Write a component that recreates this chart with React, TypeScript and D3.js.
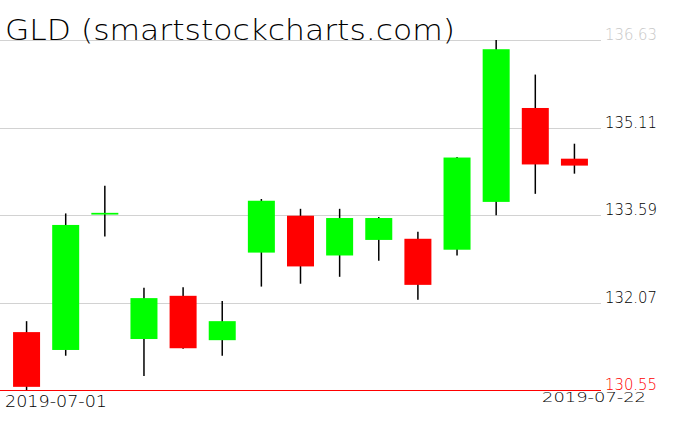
import React from "react";
import * as d3 from "d3";

const dates = [
  "2019-07-01", "2019-07-02", "2019-07-03", "2019-07-05", "2019-07-08",
  "2019-07-09", "2019-07-10", "2019-07-11", "2019-07-12", "2019-07-15",
  "2019-07-16", "2019-07-17", "2019-07-18", "2019-07-19", "2019-07-22",
];
const opens = [131.56, 131.25, 133.6, 131.44, 132.19, 131.42, 132.94, 133.58, 132.89, 133.16, 133.18, 132.99, 133.82, 135.45, 134.57];
const highs = [131.75, 133.62, 134.1, 132.33, 132.34, 132.1, 133.87, 133.7, 133.7, 133.56, 133.3, 134.6, 136.63, 136.03, 134.83];
const lows = [130.55, 131.15, 133.22, 130.8, 131.27, 131.15, 132.35, 132.4, 132.52, 132.8, 132.12, 132.89, 133.59, 133.96, 134.31];
const closes = [130.61, 133.42, 133.63, 132.15, 131.28, 131.75, 133.84, 132.7, 133.54, 133.54, 132.38, 134.59, 136.47, 134.47, 134.45];
const yTicks = [136.63, 135.11, 133.59, 132.07, 130.55];
const xLabels = ["2019-07-01", "2019-07-22"];
const title = "GLD (smartstockcharts.com)";

const W = 676;
const H = 431;
const FONT = "'DejaVu Sans', sans-serif";

export default function App() {
  const x = d3.scaleBand<string>().domain(dates).range([7, 594]).paddingInner(0.31).paddingOuter(0.155);
  const y = d3.scaleLinear().domain([130.55, 136.63]).range([390.3, 40]);
  const gridRight = 601;

  const tickColor = (i: number) => (i === 0 ? "#c8c8c8" : i === yTicks.length - 1 ? "#ff0000" : "#000");

  return (
    <div style={{ position: "absolute", left: 0, top: 0 }}>
      <svg width={W} height={H} style={{ display: "block", background: "#fff" }}>
        {yTicks.slice(0, -1).map((t) => (
          <line key={t} x1={0} x2={gridRight} y1={Math.round(y(t)) + 0.5} y2={Math.round(y(t)) + 0.5} stroke="#d2d2d2" strokeWidth={1} />
        ))}
        {dates.map((d, i) => {
          const cx = (x(d) as number) + x.bandwidth() / 2;
          const up = closes[i] >= opens[i];
          const top = y(Math.max(opens[i], closes[i]));
          const bot = y(Math.min(opens[i], closes[i]));
          return (
            <g key={d}>
              <line x1={cx} x2={cx} y1={y(highs[i])} y2={y(lows[i])} stroke="#000" strokeWidth={1.5} />
              <rect x={x(d)} y={top} width={x.bandwidth()} height={Math.max(bot - top, 1.5)} fill={up ? "#00ff00" : "#ff0000"} />
            </g>
          );
        })}
        <line x1={0} x2={gridRight} y1={390.5} y2={390.5} stroke="#ff0000" strokeWidth={1} />
        {yTicks.map((t, i) => (
          <text key={t} x={605} y={i === yTicks.length - 1 ? 389.5 : y(t)} fontFamily={FONT} fontWeight={200} fontSize={16} fill={tickColor(i)} textLength={52} lengthAdjust="spacingAndGlyphs">
            {d3.format(".2f")(t)}
          </text>
        ))}
        <text x={5} y={406.5} fontFamily={FONT} fontWeight={200} fontSize={16} fill="#000" textLength={102} lengthAdjust="spacingAndGlyphs">
          {xLabels[0]}
        </text>
        <text x={542} y={401.5} fontFamily={FONT} fontWeight={200} fontSize={14} fill="#000" textLength={104} lengthAdjust="spacingAndGlyphs">
          {xLabels[1]}
        </text>
        <text x={5} y={39.5} fontFamily={FONT} fontWeight={200} fontSize={29} fill="#000" textLength={450} lengthAdjust="spacingAndGlyphs">
          {title}
        </text>
      </svg>
    </div>
  );
}
